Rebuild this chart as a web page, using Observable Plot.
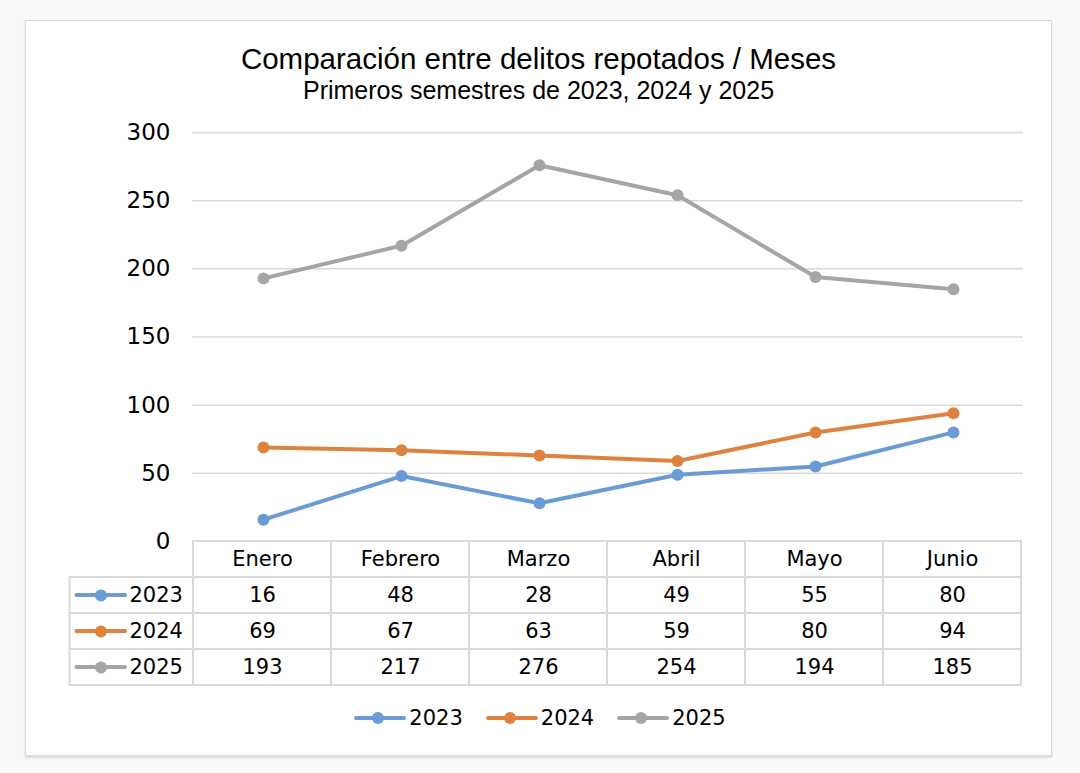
<!DOCTYPE html>
<html>
<head>
<meta charset="utf-8">
<script src="https://cdn.jsdelivr.net/npm/d3@7"></script>
<script src="https://cdn.jsdelivr.net/npm/@observablehq/plot@0.6"></script>
<style>
html,body{margin:0;padding:0;background:#f9f9f9;}
#wrap{position:relative;width:1080px;height:773px;overflow:hidden;}
#box{position:absolute;left:25px;top:20px;width:1025px;height:734px;background:#fff;border:1px solid #d9d9d9;box-shadow:0 2px 2px rgba(0,0,0,0.12);}
#title{position:absolute;left:25px;width:1027px;top:42px;text-align:center;font-family:"Liberation Sans",Arial,sans-serif;font-size:29.5px;color:#000;line-height:34px;}
#subtitle{position:absolute;left:25px;width:1027px;top:76px;text-align:center;font-family:"Liberation Sans",Arial,sans-serif;font-size:25px;color:#000;line-height:28px;}
#chart{position:absolute;left:0;top:110px;}
#table{position:absolute;left:0;top:531px;}
#legend{position:absolute;left:0;width:1080px;top:704px;display:flex;justify-content:center;gap:23px;font-family:"DejaVu Sans",sans-serif;font-size:21px;color:#000;}
#legend .item{display:flex;align-items:center;gap:3px;line-height:28px;}
#legend svg{display:block;}
</style>
</head>
<body>
<div id="wrap">
  <div id="box"></div>
  <div id="title">Comparación entre delitos repotados / Meses</div>
  <div id="subtitle">Primeros semestres de 2023, 2024 y 2025</div>
  <div id="chart"></div>
  <div id="table"></div>
  <div id="legend"></div>
</div>
<script>
const months = ["Enero", "Febrero", "Marzo", "Abril", "Mayo", "Junio"];
const years = ["2023", "2024", "2025"];
const values2023 = [16, 48, 28, 49, 55, 80];
const values2024 = [69, 67, 63, 59, 80, 94];
const values2025 = [193, 217, 276, 254, 194, 185];
const yTicks = [0, 50, 100, 150, 200, 250, 300];
const colors = ["#6b9bd4", "#e0823f", "#a5a5a5"];

const series = [values2023, values2024, values2025];
const rows = years.flatMap((yr, i) => months.map((m, j) => ({year: yr, month: m, value: series[i][j]})));

const gridColor = "#d9d9d9";

// Main line chart
const chart = Plot.plot({
  width: 1080,
  height: 451,
  marginLeft: 192,
  marginRight: 57,
  marginTop: 22,
  marginBottom: 20,
  style: {background: "transparent", fontFamily: "DejaVu Sans", fontSize: "23px", color: "#000"},
  x: {type: "point", domain: months, padding: 0.5, axis: null},
  y: {domain: [0, 300], axis: null},
  color: {domain: years, range: colors},
  marks: [
    Plot.gridY(yTicks.filter(t => t > 0), {stroke: gridColor, strokeOpacity: 1, strokeWidth: 1.5}),
    Plot.axisY(yTicks, {tickSize: 0, tickPadding: 22, label: null, fill: "#000", fontSize: 23}),
    Plot.line(rows, {x: "month", y: "value", z: "year", stroke: "year", strokeWidth: 4, strokeLinecap: "round", strokeLinejoin: "round"}),
    Plot.dot(rows, {x: "month", y: "value", fill: "year", r: 6})
  ]
});
document.getElementById("chart").append(chart);

// Data table under the chart
const keyCol = " ";
const headRow = "head";
const tbl = Plot.plot({
  width: 1080,
  height: 164,
  marginLeft: 53.5,
  marginRight: 57,
  marginTop: 10,
  marginBottom: 10,
  style: {background: "transparent", fontFamily: "DejaVu Sans", fontSize: "21px", color: "#000"},
  x: {type: "band", domain: [keyCol, ...months], padding: 0, axis: null},
  y: {type: "band", domain: [headRow, ...years], padding: 0, axis: null},
  color: {domain: years, range: colors},
  marks: [
    Plot.cell(months, {x: d => d, y: () => headRow, fill: "white", stroke: gridColor, strokeWidth: 2}),
    Plot.cell(rows, {x: "month", y: "year", fill: "white", stroke: gridColor, strokeWidth: 2}),
    Plot.cell(years, {x: () => keyCol, y: d => d, fill: "white", stroke: gridColor, strokeWidth: 2, insetLeft: 14.5}),
    Plot.cell(years, {x: () => keyCol, y: d => d, fill: d => d, insetLeft: 19.5, insetRight: 66, insetTop: 16, insetBottom: 16, rx: 2}),
    Plot.dot(years, {x: () => keyCol, y: d => d, fill: d => d, r: 6, dx: -23.5}),
    Plot.text(years, {x: () => keyCol, y: d => d, text: d => d, textAnchor: "start", dx: 5, fill: "#000"}),
    Plot.text(months, {x: d => d, y: () => headRow, text: d => d, fill: "#000"}),
    Plot.text(rows, {x: "month", y: "year", text: "value", fill: "#000"})
  ]
});
document.getElementById("table").append(tbl);

// Legend
const legend = document.getElementById("legend");
years.forEach((yr, i) => {
  const item = document.createElement("div");
  item.className = "item";
  item.innerHTML = `<svg width="52" height="14"><line x1="2" y1="7" x2="50" y2="7" stroke="${colors[i]}" stroke-width="4" stroke-linecap="round"/><circle cx="24" cy="7" r="6" fill="${colors[i]}"/></svg><span>${yr}</span>`;
  legend.append(item);
});
</script>
</body>
</html>
